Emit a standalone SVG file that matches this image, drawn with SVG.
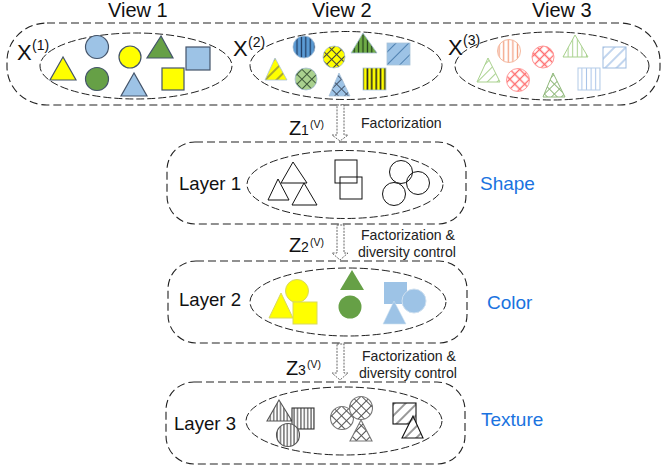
<svg xmlns="http://www.w3.org/2000/svg" width="669" height="469" viewBox="0 0 669 469">
<style>
text{font-family:"Liberation Sans",Arial,sans-serif;fill:#111}
.v{font-size:20px}.x{font-size:22px}.s{font-size:14px}.l{font-size:18.6px}.z{font-size:20px}.zs{font-size:10.5px}.f{font-size:14.1px;fill:#222}.c{font-size:19px;fill:#1a73e0}
.o{fill:#fff;stroke:#222;stroke-width:1.1;stroke-dasharray:8 4}
.e{fill:none;stroke:#222;stroke-width:1;stroke-dasharray:8 3}
.s1 *{stroke:#44546a;stroke-width:1.2}
.s2 *{stroke:#a9c2d8;stroke-width:.8}
.s3 *{stroke-width:1}
.s4 *{fill:none;stroke:#111;stroke-width:1}
.s5 *{stroke-width:1.1}
.a{fill:#fff;stroke:#555;stroke-width:.9;stroke-dasharray:2 1.2}
.by{fill:#9dc3e6}.yl{fill:#ff0}.gr{fill:#66a046}
</style>
<defs>
<pattern id="vBlue" width="4.4" height="4.4" patternUnits="userSpaceOnUse"><rect width="4.4" height="4.4" fill="#5b9bd5"/><path d="M2.2 0V4.4" stroke="#1f3a5f" stroke-width="1.2"/></pattern>
<pattern id="vGreen" width="4.4" height="4.4" patternUnits="userSpaceOnUse"><rect width="4.4" height="4.4" fill="#70ad47"/><path d="M2.2 0V4.4" stroke="#1e3a1a" stroke-width="1.2"/></pattern>
<pattern id="vYellow" width="4.4" height="4.4" patternUnits="userSpaceOnUse"><rect width="4.4" height="4.4" fill="#ff0"/><path d="M2.2 0V4.4" stroke="#222" stroke-width="1.6"/></pattern>
<pattern id="dBlue" width="9" height="9" patternUnits="userSpaceOnUse" patternTransform="rotate(-45)"><rect width="9" height="9" fill="#9dc3e6"/><path d="M0 4.5H9" stroke="#4f81b0" stroke-width="1"/></pattern>
<pattern id="dYellow" width="8" height="8" patternUnits="userSpaceOnUse" patternTransform="rotate(-45)"><rect width="8" height="8" fill="#ff0"/><path d="M0 4H8" stroke="#555" stroke-width="1"/></pattern>
<pattern id="cYellow" width="7" height="7" patternUnits="userSpaceOnUse" patternTransform="rotate(45)"><rect width="7" height="7" fill="#ff0"/><path d="M0 3.5H7M3.5 0V7" stroke="#444" stroke-width="1"/></pattern>
<pattern id="cGreen" width="7" height="7" patternUnits="userSpaceOnUse" patternTransform="rotate(45)"><rect width="7" height="7" fill="#a9d18e"/><path d="M0 3.5H7M3.5 0V7" stroke="#3f5a3a" stroke-width="1"/></pattern>
<pattern id="cBlue" width="7" height="7" patternUnits="userSpaceOnUse" patternTransform="rotate(45)"><rect width="7" height="7" fill="#9dc3e6"/><path d="M0 3.5H7M3.5 0V7" stroke="#44546a" stroke-width="1"/></pattern>
<pattern id="vOrange" width="4.6" height="4.6" patternUnits="userSpaceOnUse"><rect width="4.6" height="4.6" fill="#fff"/><path d="M2.3 0V4.6" stroke="#f4a183" stroke-width="1.3"/></pattern>
<pattern id="cRed" width="7" height="7" patternUnits="userSpaceOnUse" patternTransform="rotate(45)"><rect width="7" height="7" fill="#fff"/><path d="M0 3.5H7M3.5 0V7" stroke="#ff6f70" stroke-width="1.3"/></pattern>
<pattern id="vLGreen" width="4.6" height="4.6" patternUnits="userSpaceOnUse"><rect width="4.6" height="4.6" fill="#fff"/><path d="M2.3 0V4.6" stroke="#a9d18e" stroke-width="1"/></pattern>
<pattern id="dLGreen" width="7" height="7" patternUnits="userSpaceOnUse" patternTransform="rotate(-45)"><rect width="7" height="7" fill="#fff"/><path d="M0 3.5H7" stroke="#a9d18e" stroke-width="1"/></pattern>
<pattern id="cLGreen" width="7" height="7" patternUnits="userSpaceOnUse" patternTransform="rotate(45)"><rect width="7" height="7" fill="#fff"/><path d="M0 3.5H7M3.5 0V7" stroke="#8fb87a" stroke-width="1"/></pattern>
<pattern id="dLBlue" width="8" height="8" patternUnits="userSpaceOnUse" patternTransform="rotate(-45)"><rect width="8" height="8" fill="#fff"/><path d="M0 4H8" stroke="#8fb4e0" stroke-width="1.1"/></pattern>
<pattern id="vLBlue" width="4.6" height="4.6" patternUnits="userSpaceOnUse"><rect width="4.6" height="4.6" fill="#fff"/><path d="M2.3 0V4.6" stroke="#a9c4e8" stroke-width="1"/></pattern>
<pattern id="vGray" width="3.4" height="3.4" patternUnits="userSpaceOnUse"><rect width="3.4" height="3.4" fill="#fff"/><path d="M1.7 0V3.4" stroke="#333" stroke-width="1"/></pattern>
<pattern id="cGray" width="7" height="7" patternUnits="userSpaceOnUse" patternTransform="rotate(45)"><rect width="7" height="7" fill="#fff"/><path d="M0 3.5H7M3.5 0V7" stroke="#555" stroke-width="1"/></pattern>
<pattern id="dGray" width="8" height="8" patternUnits="userSpaceOnUse" patternTransform="rotate(-45)"><rect width="8" height="8" fill="#fff"/><path d="M0 4H8" stroke="#333" stroke-width="1"/></pattern>
</defs>
<rect width="669" height="469" fill="#fff"/>
<g id="views">
<rect class="o" x="7" y="23" width="653" height="82" rx="40" ry="38"/>
<text class="v" x="108" y="16.500">View 1</text>
<text class="v" x="312" y="16.500">View 2</text>
<text class="v" x="532" y="16.500">View 3</text>
</g>
<g id="view1">
<ellipse class="e" cx="136" cy="66" rx="96" ry="33"/>
<text class="x" x="17" y="60">X</text><text class="s" x="32" y="50">(1)</text>
<g class="s1">
<circle class="by" cx="97" cy="47" r="11.500"/>
<circle class="yl" cx="130" cy="57" r="11"/>
<polygon class="gr" points="161,36 147,58 173,58"/>
<rect class="by" x="186" y="47" width="24" height="23"/>
<rect class="yl" x="162" y="68" width="22" height="22"/>
<circle class="gr" cx="97" cy="79" r="11.500"/>
<polygon class="by" points="134,73 121,96 147,96"/>
<polygon class="yl" points="63,57 50,80 76,80"/>
</g>
</g>
<g id="view2">
<ellipse class="e" cx="346" cy="65.500" rx="96" ry="34"/>
<text class="x" x="233" y="56">X</text><text class="s" x="248" y="47">(2)</text>
<g class="s2">
<circle fill="url(#vBlue)" cx="304" cy="47" r="11"/>
<circle fill="url(#cYellow)" cx="334" cy="57" r="11"/>
<polygon fill="url(#vGreen)" points="363,33 351,53 377,53"/>
<rect fill="url(#dBlue)" x="387" y="43" width="23" height="22"/>
<polygon fill="url(#dYellow)" points="275,58 265,80 287,80"/>
<circle fill="url(#cGreen)" cx="306" cy="79" r="11"/>
<polygon fill="url(#cBlue)" points="339,73 329,96 350,96"/>
<rect fill="url(#vYellow)" x="363" y="68" width="23" height="22"/>
</g>
</g>
<g id="view3">
<ellipse class="e" cx="552" cy="66" rx="97" ry="34"/>
<text class="x" x="448" y="55">X</text><text class="s" x="463" y="45">(3)</text>
<g class="s3">
<circle fill="url(#vOrange)" stroke="#f4b9a0" cx="509" cy="51" r="11.500"/>
<circle fill="url(#cRed)" stroke="#ff9a9a" cx="543" cy="57" r="11"/>
<polygon fill="url(#vLGreen)" stroke="#a9d18e" points="575,35 563,57 588,57"/>
<rect fill="url(#dLBlue)" stroke="#9dbbe0" x="603" y="47" width="23" height="21"/>
<polygon fill="url(#dLGreen)" stroke="#a9d18e" points="488,58 477,82 500,82"/>
<circle fill="url(#cRed)" stroke="#ff9a9a" cx="518" cy="80" r="11.500"/>
<polygon fill="url(#cLGreen)" stroke="#8fb87a" points="553,73 543,97 565,97"/>
<rect fill="url(#vLBlue)" stroke="#b4cce8" x="578" y="68" width="22" height="22"/>
</g>
</g>
<g id="layer1">
<rect class="o" x="167" y="142" width="299" height="82" rx="28"/>
<ellipse class="e" cx="345" cy="184.500" rx="98" ry="34"/>
<text class="l" x="179" y="190">Layer 1</text>
<g class="s4">
<polygon points="293,162 281,183 307,183"/>
<polygon points="278,179 268,200 289,200"/>
<polygon points="304,183 292,205 317,205"/>
<rect x="335" y="160" width="22" height="23"/>
<rect x="340" y="177" width="22" height="22"/>
<circle cx="401" cy="172" r="11.500"/>
<circle cx="418" cy="183" r="11.500"/>
<circle cx="394" cy="194" r="11.500"/>
</g>
<text class="c" x="480" y="190">Shape</text>
</g>
<g id="layer2">
<rect class="o" x="168" y="261" width="299" height="82" rx="28"/>
<ellipse class="e" cx="348" cy="302" rx="98" ry="34"/>
<text class="l" x="179" y="306">Layer 2</text>
<g>
<circle class="yl" stroke="#d8d860" cx="297" cy="291" r="11.500"/>
<polygon class="yl" stroke="#d8d860" points="281,293 269,318 293,318"/>
<rect class="yl" stroke="#d8d860" x="293" y="302" width="24" height="22"/>
<polygon class="gr" points="352,270 340,290 364,290"/>
<circle class="gr" cx="350" cy="307" r="11.500"/>
<rect class="by" x="384" y="282" width="23" height="22"/>
<circle class="by" stroke="#cfe0f0" cx="414" cy="301" r="12"/>
<polygon class="by" stroke="#cfe0f0" stroke-width=".6" points="394,301 383,324 406,324"/>
</g>
<text class="c" x="487" y="309">Color</text>
</g>
<g id="layer3">
<rect class="o" x="166" y="382" width="299" height="82" rx="28"/>
<ellipse class="e" cx="344" cy="421" rx="98" ry="34"/>
<text class="l" x="174" y="430">Layer 3</text>
<g class="s5">
<polygon fill="url(#vGray)" stroke="#555" points="279,400 267,421 292,421"/>
<rect fill="url(#vGray)" stroke="#333" x="292" y="408" width="22" height="21"/>
<circle fill="url(#vGray)" stroke="#555" cx="288" cy="435" r="11.500"/>
<circle fill="url(#cGray)" stroke="#777" cx="342" cy="418" r="11.500"/>
<circle fill="url(#cGray)" stroke="#777" cx="361" cy="408" r="11.500"/>
<polygon fill="url(#cGray)" stroke="#777" points="361,420 350,441 372,441"/>
<rect fill="url(#dGray)" stroke="#111" x="393" y="403" width="23" height="21"/>
<polygon fill="url(#dGray)" stroke="#111" points="413,416 402,438 423,438"/>
</g>
<text class="c" x="481" y="426">Texture</text>
</g>
<g id="connectors">
<polygon class="a" points="337,105 344,105 344,135 348,135 340,141 332,135 337,135"/>
<polygon class="a" points="337,225 344,225 344,253 348,253 340,260 332,253 337,253"/>
<polygon class="a" points="337,344 344,344 344,373 348,373 340,380 332,373 337,373"/>
<g id="label1"><text class="z" x="289" y="135">Z</text><text class="s" x="301" y="135">1</text><text class="zs" x="310" y="128">(V)</text><text class="f" x="361" y="128">Factorization</text></g>
<g id="label2"><text class="z" x="289" y="252">Z</text><text class="s" x="301" y="252">2</text><text class="zs" x="310" y="246">(V)</text><text class="f" x="361" y="240">Factorization &amp;</text><text class="f" x="358" y="257">diversity control</text></g>
<g id="label3"><text class="z" x="286" y="375">Z</text><text class="s" x="298" y="375">3</text><text class="zs" x="307" y="368">(V)</text><text class="f" x="362" y="361">Factorization &amp;</text><text class="f" x="359" y="378">diversity control</text></g>
</g>
</svg>
